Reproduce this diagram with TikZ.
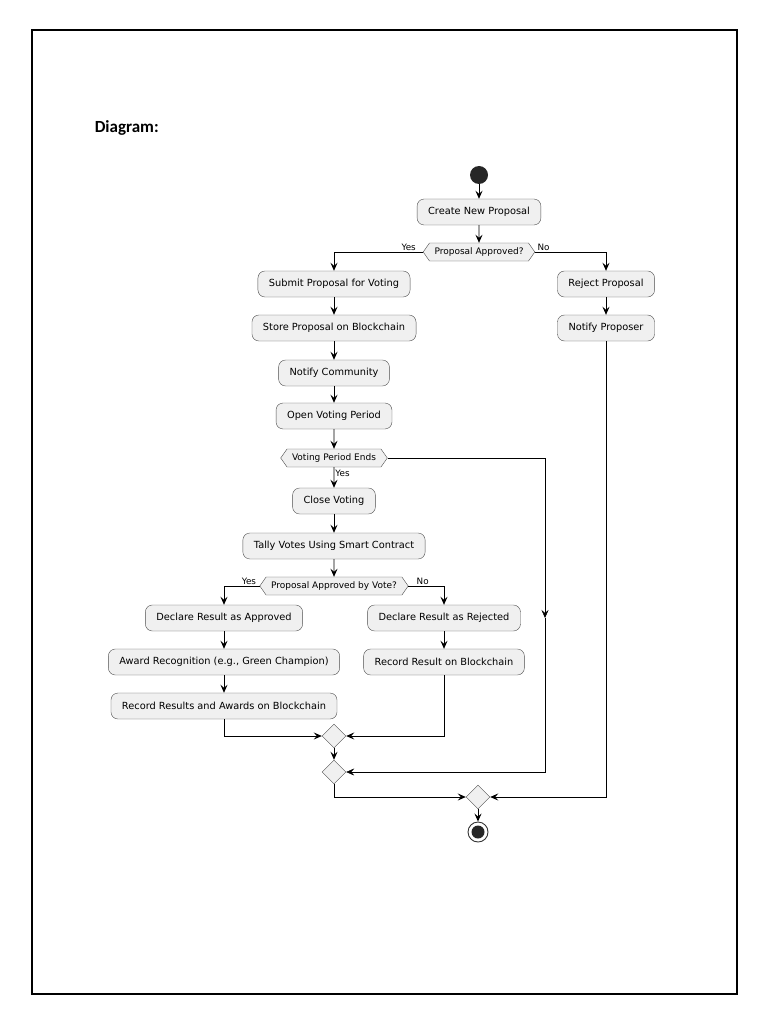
\documentclass[tikz,border=0pt]{standalone}
\usepackage{fontspec}
\setmainfont{DejaVu Sans}
\newfontfamily\titlefont{Carlito}
\usetikzlibrary{arrows,arrows.meta,shapes.symbols,shapes.geometric}
\begin{document}
\begin{tikzpicture}[%
    x=1pt, y=-1pt,
    >={Stealth[length=8pt,width=7pt,inset=3pt]}, line width=0.9pt,
    act/.style={draw=black!70, thin, fill=black!6, rounded corners=7pt, minimum height=26pt,
      inner xsep=11pt, font=\fontsize{9.8}{11}\selectfont},
    dec/.style={draw=black!70, thin, fill=black!6, signal, signal to=east and west, signal pointer angle=110,
      minimum height=18pt, inner xsep=5pt, inner ysep=1pt, font=\fontsize{9}{10}\selectfont},
    merge/.style={draw=black!70, thin, fill=black!6, diamond, minimum size=24pt, inner sep=0pt},
    lbl/.style={font=\fontsize{8.8}{10}\selectfont, inner sep=1pt}
  ]
    \useasboundingbox (0,0) rectangle (768,1024);
    \draw[line width=1.6pt] (32,30) rectangle (737,994);
    \node[anchor=west, font=\titlefont\bfseries\fontsize{17}{19}\selectfont] at (91,128) {Diagram:};

    \node[circle, fill=black!85, minimum size=18pt, inner sep=0pt] (start) at (479,175) {};
    \node[act] (create) at (479,212) {Create New Proposal};
    \node[dec] (d1) at (479,252) {Proposal Approved?};
    \node[act] (submit) at (334,284) {Submit Proposal for Voting};
    \node[act] (reject) at (606,284) {Reject Proposal};
    \node[act] (store) at (334,328) {Store Proposal on Blockchain};
    \node[act] (notprop) at (606,328) {Notify Proposer};
    \node[act] (notcom) at (334,373) {Notify Community};
    \node[act] (open) at (334,416) {Open Voting Period};
    \node[dec] (d2) at (334,458) {Voting Period Ends};
    \node[act] (close) at (334,501) {Close Voting};
    \node[act] (tally) at (334,546) {Tally Votes Using Smart Contract};
    \node[dec] (d3) at (334,586) {Proposal Approved by Vote?};
    \node[act] (declapp) at (224,618) {Declare Result as Approved};
    \node[act] (declrej) at (444,618) {Declare Result as Rejected};
    \node[act] (award) at (224,662) {Award Recognition (e.g., Green Champion)};
    \node[act] (recrej) at (444,662) {Record Result on Blockchain};
    \node[act] (recapp) at (224,706) {Record Results and Awards on Blockchain};
    \node[merge] (m1) at (334,736) {};
    \node[merge] (m2) at (334,772) {};
    \node[merge] (m3) at (478,797) {};
    \node[circle, draw=black!80, minimum size=20pt, inner sep=0pt] (end) at (478,832) {};
    \node[circle, fill=black!85, minimum size=13pt, inner sep=0pt] at (end) {};
    \coordinate (loop) at (545,458);

    \draw[->] (start) -- (create);
    \draw[->] (create) -- (d1);
    \draw[->] (d1.west) -| node[lbl, pos=0.08, above] {Yes} (submit);
    \draw[->] (d1.east) -| node[lbl, pos=0.06, above] {No} (reject);
    \draw[->] (submit) -- (store);
    \draw[->] (reject) -- (notprop);
    \draw[->] (store) -- (notcom);
    \draw[->] (notcom) -- (open);
    \draw[->] (open) -- (d2);
    \draw[->] (d2) -- node[lbl, right, pos=0.3] {Yes} (close);
    \draw[->] (close) -- (tally);
    \draw[->] (tally) -- (d3);
    \draw[->] (d3.west) -| node[lbl, pos=0.15, above] {Yes} (declapp);
    \draw[->] (d3.east) -| node[lbl, pos=0.2, above] {No} (declrej);
    \draw[->] (declapp) -- (award);
    \draw[->] (award) -- (recapp);
    \draw[->] (declrej) -- (recrej);
    \draw[->] (recapp) |- (m1);
    \draw[->] (recrej) |- (m1);
    \draw[->] (m1) -- (m2);
    \draw[thin] (d2.east) -- (loop);
    \draw[->, thin] (loop) -- (545,618);
    \draw[->, thin] (545,618) |- (m2);
    \draw[->] (m2) |- (m3);
    \draw[->] (notprop) |- (m3);
    \draw[->] (m3) -- (end);
\end{tikzpicture}
\end{document}
